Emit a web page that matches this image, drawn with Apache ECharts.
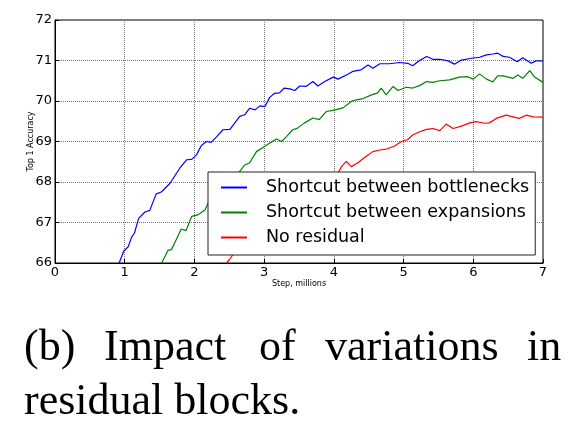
<!DOCTYPE html>
<html>
<head>
<meta charset="utf-8">
<script src="https://cdn.jsdelivr.net/npm/echarts@6/dist/echarts.min.js"></script>
<style>
  html, body { margin: 0; padding: 0; background: #fff; }
  #chart { width: 579px; height: 429px; }
</style>
</head>
<body>
<div id="chart"></div>
<script>
// series values: [step (millions), top-1 accuracy]
var bottleneckShortcut = [
  [0.92, 66], [0.985, 66.29], [1.05, 66.4], [1.1, 66.64], [1.14, 66.74], [1.2, 67.1],
  [1.29, 67.26], [1.36, 67.3], [1.45, 67.7], [1.53, 67.76], [1.65, 67.97], [1.79, 68.34],
  [1.89, 68.55], [1.96, 68.56], [2.03, 68.67], [2.1, 68.9], [2.17, 69.0], [2.24, 68.98],
  [2.32, 69.12], [2.41, 69.29], [2.51, 69.3], [2.65, 69.62], [2.72, 69.66], [2.79, 69.82],
  [2.87, 69.78], [2.94, 69.88], [3.01, 69.86], [3.08, 70.09], [3.15, 70.19], [3.22, 70.2],
  [3.29, 70.32], [3.37, 70.3], [3.44, 70.26], [3.51, 70.37], [3.6, 70.36], [3.7, 70.48],
  [3.77, 70.37], [3.87, 70.48], [3.99, 70.59], [4.06, 70.54], [4.18, 70.64], [4.27, 70.73],
  [4.39, 70.77], [4.49, 70.89], [4.56, 70.81], [4.66, 70.92], [4.8, 70.92], [4.94, 70.95],
  [5.06, 70.93], [5.13, 70.87], [5.23, 71.0], [5.33, 71.1], [5.42, 71.03], [5.52, 71.03],
  [5.64, 70.99], [5.73, 70.91], [5.83, 71.01], [5.95, 71.05], [6.09, 71.08], [6.19, 71.14],
  [6.28, 71.16], [6.35, 71.18], [6.43, 71.1], [6.52, 71.08], [6.63, 70.97], [6.71, 71.07],
  [6.83, 70.93], [6.9, 70.99], [7.0, 70.99]
];
var expansionShortcut = [
  [1.53, 66], [1.62, 66.31], [1.67, 66.33], [1.74, 66.58], [1.81, 66.84], [1.88, 66.8],
  [1.96, 67.15], [2.05, 67.19], [2.15, 67.31], [2.22, 67.56], [2.32, 67.8], [2.39, 67.93],
  [2.51, 68.06], [2.65, 68.26], [2.72, 68.42], [2.79, 68.47], [2.89, 68.75], [2.99, 68.86],
  [3.08, 68.96], [3.18, 69.06], [3.25, 69.0], [3.32, 69.12], [3.41, 69.29], [3.48, 69.33],
  [3.58, 69.46], [3.7, 69.58], [3.79, 69.54], [3.89, 69.74], [3.99, 69.77], [4.13, 69.83],
  [4.25, 69.99], [4.32, 70.03], [4.42, 70.06], [4.54, 70.15], [4.63, 70.2], [4.68, 70.32],
  [4.75, 70.15], [4.85, 70.36], [4.92, 70.26], [5.04, 70.34], [5.13, 70.32], [5.23, 70.38],
  [5.33, 70.48], [5.42, 70.46], [5.52, 70.5], [5.66, 70.52], [5.8, 70.59], [5.92, 70.6],
  [6.0, 70.54], [6.09, 70.67], [6.19, 70.54], [6.28, 70.47], [6.35, 70.62], [6.43, 70.62],
  [6.57, 70.56], [6.64, 70.64], [6.71, 70.56], [6.81, 70.75], [6.88, 70.59], [7.0, 70.46]
];
var noResidual = [
  [2.46, 66], [2.5, 66.08], [2.55, 66.2],
  [4.06, 68.22], [4.11, 68.38], [4.18, 68.51], [4.25, 68.38], [4.34, 68.47], [4.46, 68.63],
  [4.56, 68.75], [4.66, 68.79], [4.75, 68.81], [4.87, 68.89], [4.97, 69.0], [5.06, 69.05],
  [5.13, 69.16], [5.23, 69.24], [5.33, 69.3], [5.42, 69.32], [5.52, 69.27], [5.61, 69.43],
  [5.71, 69.32], [5.83, 69.38], [5.95, 69.46], [6.04, 69.49], [6.16, 69.45], [6.23, 69.46],
  [6.33, 69.57], [6.47, 69.65], [6.57, 69.61], [6.66, 69.57], [6.76, 69.65], [6.86, 69.61],
  [7.0, 69.6]
];
var seriesNames = ['Shortcut between bottlenecks', 'Shortcut between expansions', 'No residual'];
var seriesColors = ['#0000ff', '#008000', '#ff0000'];
var captionWords = ['(b)', 'Impact', 'of', 'variations', 'in'];
var captionLine2 = 'residual blocks.';

var chart = echarts.init(document.getElementById('chart'));

// first caption line is justified, so each word sits at its own spot
var wordLeft = [24, 104, 259, 325, 527];
var graphics = captionWords.map(function (w, i) {
  return {
    type: 'text', left: wordLeft[i], top: 326,
    style: { text: w, font: '44px "Liberation Serif"', fill: '#000' }
  };
});
graphics.push({
  type: 'text', left: 24, top: 380,
  style: { text: captionLine2, font: '44px "Liberation Serif"', fill: '#000' }
});

var dataList = [bottleneckShortcut, expansionShortcut, noResidual];

chart.setOption({
  animation: false,
  backgroundColor: '#fff',
  textStyle: { fontFamily: 'DejaVu Sans' },
  grid: {
    left: 55, right: 36, top: 20, bottom: 166,
    show: true, borderColor: '#000', borderWidth: 1
  },
  legend: {
    orient: 'vertical',
    left: 208, top: 172,
    padding: [3, 6, 5, 12],
    itemWidth: 26, itemHeight: 25, itemGap: 0,
    itemStyle: { opacity: 0 },
    backgroundColor: '#fff',
    borderColor: '#222', borderWidth: 1,
    textStyle: { fontSize: 17.5, color: '#000', lineHeight: 25, padding: [0, 0, 0, 14] },
    data: seriesNames
  },
  xAxis: {
    type: 'value', min: 0, max: 7, interval: 1,
    name: 'Step, millions', nameLocation: 'middle', nameGap: 17, nameMoveOverlap: false,
    nameTextStyle: { fontSize: 8, color: '#000' },
    axisLine: { show: true, lineStyle: { color: '#000' } },
    axisTick: { show: true, inside: true, length: 4, lineStyle: { color: '#000' } },
    axisLabel: { fontSize: 13, color: '#000', margin: 3 },
    splitLine: { show: true, lineStyle: { color: '#777', type: 'dotted', width: 1 } }
  },
  yAxis: {
    type: 'value', min: 66, max: 72, interval: 1,
    name: 'Top 1 Accuracy', nameLocation: 'middle', nameGap: 20, nameRotate: 90, nameMoveOverlap: false,
    nameTextStyle: { fontSize: 8, color: '#000' },
    axisLine: { show: true, lineStyle: { color: '#000' } },
    axisTick: { show: true, inside: true, length: 4, lineStyle: { color: '#000' } },
    axisLabel: { fontSize: 13, color: '#000', margin: 3 },
    splitLine: { show: true, lineStyle: { color: '#777', type: 'dotted', width: 1 } }
  },
  series: dataList.map(function (d, i) {
    return {
      name: seriesNames[i],
      type: 'line',
      data: d,
      symbol: 'none',
      clip: true,
      lineStyle: { color: seriesColors[i], width: 1.2 },
      itemStyle: { color: seriesColors[i] }
    };
  }),
  graphic: graphics
});
</script>
</body>
</html>
